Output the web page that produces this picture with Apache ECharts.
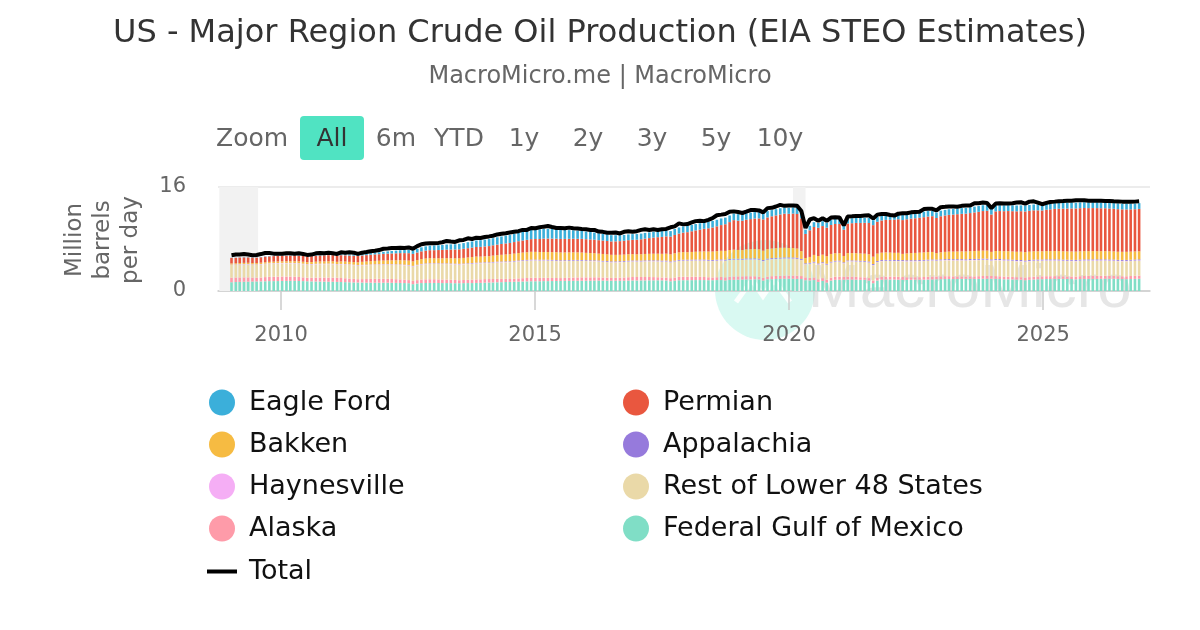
<!DOCTYPE html>
<html>
<head>
<meta charset="utf-8">
<script src="https://cdn.jsdelivr.net/npm/echarts@6/dist/echarts.min.js"></script>
<style>
html,body{margin:0;padding:0;background:#fff;}
#chart{width:1200px;height:630px;}
</style>
</head>
<body>
<div id="chart"></div>
<script>
// ---------------- DATA (million barrels per day, monthly Jan 2009 - Dec 2026) ----------------
const years = [2009,2010,2011,2012,2013,2014,2015,2016,2017,2018,2019,2020,2021,2022,2023,2024,2025,2026];
const xTickYears = [2010, 2015, 2020, 2025];
const yTicks = [0, 16];
const recessions = [['2008-10-05', '2009-07-12'], ['2020-02-01', '2020-05-01']];

const eagleFord = [
0.03,0.03,0.03,0.04,0.04,0.04,0.04,0.05,0.05,0.05,0.05,0.05,
0.06,0.06,0.07,0.07,0.08,0.09,0.10,0.11,0.12,0.13,0.14,0.15,
0.15,0.15,0.16,0.17,0.18,0.19,0.20,0.22,0.24,0.26,0.28,0.30,
0.32,0.35,0.38,0.41,0.44,0.47,0.50,0.54,0.58,0.62,0.66,0.70,
0.72,0.74,0.76,0.78,0.80,0.82,0.85,0.88,0.92,0.96,1.00,1.03,
1.05,1.08,1.10,1.13,1.16,1.19,1.22,1.26,1.30,1.34,1.38,1.42,
1.45,1.48,1.50,1.50,1.48,1.45,1.42,1.38,1.34,1.30,1.26,1.22,
1.18,1.14,1.10,1.06,1.02,0.99,0.96,0.94,0.92,0.90,0.89,0.88,
0.87,0.87,0.88,0.88,0.89,0.89,0.90,0.90,0.85,0.92,0.94,0.95,
0.96,0.97,0.98,0.99,1.00,1.00,1.01,1.01,1.02,1.02,1.02,1.02,
1.01,1.00,1.00,0.99,0.99,0.98,0.97,0.97,0.96,0.96,0.95,0.95,
0.95,0.95,0.94,0.85,0.65,0.70,0.74,0.74,0.75,0.75,0.76,0.76,
0.76,0.68,0.77,0.77,0.78,0.78,0.78,0.78,0.77,0.79,0.80,0.80,
0.81,0.81,0.82,0.82,0.83,0.83,0.84,0.84,0.85,0.85,0.86,0.85,
0.86,0.86,0.87,0.87,0.88,0.88,0.88,0.89,0.89,0.89,0.90,0.90,
0.86,0.89,0.90,0.90,0.90,0.90,0.90,0.90,0.90,0.90,0.90,0.90,
0.89,0.90,0.90,0.90,0.90,0.90,0.90,0.90,0.89,0.89,0.89,0.89,
0.89,0.89,0.89,0.88,0.88,0.88,0.88,0.88,0.88,0.88,0.88,0.88];

const permian = [
0.85,0.84,0.84,0.84,0.83,0.83,0.84,0.84,0.85,0.85,0.86,0.86,
0.87,0.87,0.88,0.88,0.89,0.89,0.90,0.91,0.92,0.93,0.94,0.95,
0.95,0.94,0.96,0.96,0.97,0.97,0.96,0.98,0.98,0.99,1.00,1.00,
1.02,1.04,1.06,1.08,1.10,1.12,1.14,1.15,1.17,1.19,1.21,1.23,
1.25,1.27,1.29,1.32,1.34,1.36,1.38,1.40,1.43,1.45,1.47,1.50,
1.52,1.55,1.58,1.62,1.66,1.70,1.74,1.78,1.82,1.86,1.90,1.95,
1.98,2.02,2.06,2.08,2.08,2.07,2.08,2.08,2.09,2.09,2.09,2.10,
2.10,2.09,2.08,2.07,2.06,2.05,2.06,2.08,2.10,2.13,2.16,2.20,
2.25,2.30,2.36,2.42,2.48,2.54,2.60,2.67,2.74,2.82,2.90,3.00,
3.08,3.18,3.28,3.38,3.48,3.58,3.70,3.82,3.95,4.10,4.30,4.55,
4.50,4.52,4.58,4.64,4.70,4.76,4.82,4.88,4.96,5.04,5.14,5.25,
5.25,5.30,5.32,5.05,3.70,4.10,4.30,4.35,4.40,4.38,4.45,4.50,
4.50,4.05,4.55,4.60,4.65,4.70,4.75,4.80,4.85,4.90,4.95,5.00,
5.05,5.10,5.15,5.20,5.25,5.30,5.33,5.37,5.42,5.46,5.50,5.40,
5.55,5.60,5.65,5.70,5.74,5.78,5.82,5.86,5.94,6.00,6.08,6.12,
5.75,6.10,6.14,6.16,6.18,6.20,6.22,6.24,6.26,6.28,6.30,6.30,
6.28,6.36,6.42,6.48,6.52,6.56,6.60,6.62,6.64,6.64,6.64,6.62,
6.62,6.62,6.60,6.60,6.58,6.56,6.55,6.53,6.52,6.50,6.50,6.52];

const bakken = [
0.17,0.17,0.18,0.18,0.19,0.19,0.20,0.20,0.21,0.21,0.22,0.23,
0.24,0.25,0.26,0.27,0.28,0.29,0.30,0.31,0.32,0.33,0.34,0.35,
0.36,0.35,0.38,0.39,0.38,0.40,0.43,0.46,0.49,0.51,0.53,0.55,
0.56,0.58,0.60,0.62,0.64,0.66,0.67,0.69,0.71,0.74,0.76,0.78,
0.76,0.77,0.78,0.80,0.81,0.82,0.85,0.87,0.90,0.92,0.95,0.91,
0.92,0.95,0.98,1.00,1.03,1.06,1.08,1.11,1.14,1.16,1.18,1.20,
1.19,1.17,1.18,1.18,1.19,1.21,1.20,1.19,1.18,1.17,1.16,1.15,
1.12,1.11,1.09,1.06,1.05,1.03,1.01,1.00,0.99,0.98,0.99,0.97,
0.95,0.98,0.99,1.00,1.02,1.03,1.04,1.06,1.08,1.12,1.15,1.17,
1.15,1.18,1.20,1.22,1.25,1.27,1.29,1.31,1.33,1.35,1.37,1.38,
1.35,1.33,1.38,1.40,1.42,1.43,1.44,1.45,1.47,1.49,1.50,1.48,
1.45,1.45,1.42,1.20,0.82,0.90,1.05,1.14,1.16,1.17,1.18,1.15,
1.13,0.98,1.12,1.12,1.13,1.12,1.11,1.12,1.13,1.13,1.14,1.15,
1.12,1.10,1.11,0.95,1.05,1.10,1.12,1.14,1.15,1.16,1.15,1.00,
1.08,1.12,1.15,1.16,1.18,1.19,1.20,1.21,1.22,1.23,1.24,1.25,
1.15,1.22,1.24,1.25,1.26,1.26,1.27,1.27,1.28,1.28,1.28,1.27,
1.26,1.27,1.27,1.28,1.28,1.28,1.28,1.28,1.28,1.27,1.27,1.27,
1.27,1.26,1.26,1.26,1.26,1.25,1.25,1.25,1.25,1.25,1.24,1.24];

const appalachia = [
0.02,0.02,0.02,0.02,0.02,0.02,0.02,0.02,0.02,0.02,0.02,0.02,
0.02,0.02,0.02,0.02,0.02,0.03,0.03,0.03,0.03,0.03,0.03,0.03,
0.03,0.03,0.03,0.03,0.03,0.03,0.04,0.04,0.04,0.04,0.04,0.04,
0.04,0.04,0.04,0.04,0.05,0.05,0.05,0.05,0.05,0.05,0.06,0.06,
0.06,0.06,0.06,0.06,0.07,0.07,0.07,0.07,0.07,0.08,0.08,0.08,
0.08,0.08,0.08,0.09,0.09,0.09,0.09,0.10,0.10,0.10,0.10,0.10,
0.10,0.10,0.10,0.11,0.11,0.11,0.11,0.11,0.11,0.11,0.11,0.11,
0.11,0.11,0.11,0.11,0.11,0.12,0.12,0.12,0.12,0.12,0.12,0.12,
0.12,0.12,0.12,0.12,0.12,0.13,0.13,0.13,0.13,0.13,0.13,0.13,
0.13,0.13,0.13,0.13,0.14,0.14,0.14,0.14,0.14,0.14,0.14,0.14,
0.14,0.14,0.14,0.15,0.15,0.15,0.15,0.15,0.15,0.15,0.15,0.15,
0.15,0.15,0.15,0.14,0.12,0.13,0.13,0.13,0.13,0.13,0.13,0.13,
0.13,0.12,0.13,0.13,0.13,0.13,0.13,0.14,0.14,0.14,0.14,0.14,
0.14,0.14,0.14,0.14,0.14,0.14,0.14,0.14,0.14,0.14,0.14,0.14,
0.14,0.14,0.14,0.15,0.15,0.15,0.15,0.15,0.15,0.15,0.15,0.15,
0.15,0.15,0.15,0.15,0.15,0.15,0.15,0.15,0.15,0.15,0.15,0.15,
0.15,0.15,0.15,0.15,0.15,0.15,0.15,0.15,0.15,0.15,0.15,0.15,
0.15,0.15,0.15,0.15,0.15,0.15,0.15,0.15,0.15,0.15,0.15,0.15];

const haynesville = [
0.05,0.05,0.06,0.06,0.06,0.06,0.06,0.06,0.06,0.06,0.06,0.06,
0.06,0.06,0.06,0.06,0.06,0.06,0.06,0.06,0.06,0.06,0.06,0.06,
0.06,0.06,0.06,0.06,0.05,0.05,0.05,0.05,0.05,0.05,0.05,0.05,
0.05,0.05,0.05,0.05,0.05,0.05,0.05,0.05,0.05,0.05,0.05,0.05,
0.05,0.05,0.05,0.05,0.05,0.05,0.05,0.05,0.05,0.05,0.05,0.05,
0.05,0.05,0.05,0.05,0.05,0.05,0.05,0.05,0.05,0.05,0.05,0.05,
0.05,0.05,0.05,0.05,0.05,0.05,0.04,0.04,0.04,0.04,0.04,0.04,
0.04,0.04,0.04,0.04,0.04,0.04,0.04,0.04,0.04,0.04,0.04,0.04,
0.04,0.04,0.04,0.04,0.04,0.04,0.04,0.04,0.04,0.04,0.04,0.04,
0.04,0.04,0.04,0.04,0.04,0.04,0.04,0.04,0.04,0.04,0.04,0.04,
0.04,0.04,0.04,0.04,0.04,0.04,0.04,0.04,0.04,0.04,0.04,0.04,
0.04,0.04,0.04,0.04,0.04,0.04,0.04,0.04,0.04,0.04,0.04,0.04,
0.04,0.04,0.04,0.04,0.04,0.04,0.04,0.04,0.04,0.04,0.04,0.04,
0.04,0.04,0.04,0.05,0.05,0.05,0.05,0.05,0.05,0.05,0.05,0.05,
0.05,0.05,0.05,0.05,0.05,0.05,0.05,0.05,0.06,0.06,0.06,0.06,
0.06,0.06,0.06,0.06,0.06,0.06,0.06,0.06,0.06,0.06,0.06,0.06,
0.06,0.06,0.06,0.06,0.06,0.06,0.06,0.06,0.06,0.06,0.06,0.06,
0.06,0.06,0.06,0.06,0.06,0.06,0.06,0.06,0.06,0.06,0.06,0.06];

const restLower48 = [
1.95,1.95,1.96,1.97,1.97,1.96,1.97,1.99,2.00,2.01,2.01,2.02,
2.02,2.02,2.03,2.03,2.04,2.02,2.00,2.02,2.04,2.05,2.05,2.06,
2.06,2.02,2.08,2.09,2.10,2.10,2.08,2.11,2.12,2.13,2.14,2.15,
2.16,2.17,2.18,2.19,2.20,2.21,2.23,2.22,2.27,2.30,2.33,2.35,
2.35,2.36,2.37,2.38,2.38,2.38,2.40,2.41,2.42,2.43,2.44,2.45,
2.46,2.44,2.49,2.52,2.54,2.56,2.58,2.60,2.61,2.63,2.64,2.65,
2.65,2.64,2.64,2.63,2.62,2.60,2.59,2.58,2.57,2.56,2.54,2.52,
2.50,2.48,2.46,2.44,2.42,2.40,2.39,2.38,2.37,2.38,2.39,2.39,
2.38,2.36,2.40,2.41,2.42,2.42,2.43,2.43,2.40,2.43,2.45,2.45,
2.46,2.47,2.48,2.49,2.50,2.50,2.51,2.52,2.53,2.53,2.54,2.55,
2.54,2.52,2.55,2.56,2.57,2.57,2.56,2.58,2.59,2.59,2.60,2.60,
2.60,2.60,2.58,2.45,2.00,2.15,2.25,2.26,2.28,2.27,2.29,2.30,
2.30,2.05,2.32,2.34,2.35,2.36,2.36,2.37,2.35,2.38,2.39,2.40,
2.40,2.38,2.41,2.42,2.42,2.43,2.43,2.44,2.45,2.45,2.45,2.40,
2.42,2.43,2.44,2.44,2.45,2.45,2.45,2.46,2.46,2.46,2.46,2.45,
2.35,2.43,2.44,2.44,2.44,2.44,2.43,2.43,2.42,2.42,2.41,2.40,
2.38,2.38,2.38,2.37,2.37,2.36,2.36,2.35,2.35,2.34,2.34,2.33,
2.33,2.33,2.32,2.32,2.31,2.31,2.30,2.30,2.30,2.29,2.29,2.29];

const alaska = [
0.70,0.70,0.69,0.68,0.66,0.62,0.58,0.60,0.64,0.66,0.68,0.68,
0.68,0.67,0.66,0.64,0.62,0.58,0.54,0.56,0.60,0.62,0.63,0.64,
0.64,0.63,0.62,0.60,0.58,0.55,0.52,0.53,0.56,0.58,0.60,0.60,
0.60,0.60,0.59,0.57,0.55,0.52,0.48,0.50,0.52,0.55,0.57,0.57,
0.57,0.56,0.55,0.54,0.52,0.50,0.46,0.48,0.50,0.52,0.54,0.55,
0.55,0.54,0.53,0.52,0.50,0.48,0.45,0.47,0.50,0.51,0.52,0.53,
0.53,0.52,0.51,0.50,0.48,0.46,0.44,0.45,0.48,0.50,0.51,0.52,
0.52,0.52,0.51,0.50,0.48,0.46,0.43,0.44,0.48,0.50,0.52,0.53,
0.53,0.53,0.52,0.51,0.50,0.47,0.44,0.46,0.48,0.50,0.52,0.53,
0.53,0.52,0.51,0.50,0.48,0.46,0.43,0.44,0.47,0.49,0.51,0.52,
0.51,0.50,0.50,0.49,0.47,0.44,0.41,0.42,0.46,0.48,0.49,0.50,
0.50,0.49,0.48,0.46,0.44,0.40,0.40,0.41,0.43,0.45,0.46,0.47,
0.47,0.46,0.46,0.44,0.43,0.40,0.38,0.39,0.42,0.44,0.45,0.45,
0.45,0.45,0.44,0.43,0.42,0.40,0.38,0.39,0.41,0.43,0.44,0.44,
0.44,0.44,0.43,0.42,0.41,0.39,0.37,0.38,0.40,0.42,0.43,0.43,
0.43,0.43,0.43,0.42,0.41,0.39,0.37,0.39,0.41,0.42,0.43,0.43,
0.44,0.44,0.44,0.43,0.42,0.40,0.38,0.40,0.42,0.44,0.45,0.46,
0.47,0.47,0.47,0.46,0.45,0.44,0.42,0.43,0.45,0.47,0.48,0.49];

const gulfOfMexico = [
1.35,1.38,1.40,1.42,1.44,1.45,1.47,1.48,1.50,1.52,1.52,1.53,
1.55,1.55,1.56,1.56,1.54,1.52,1.50,1.48,1.46,1.45,1.44,1.43,
1.42,1.40,1.38,1.36,1.34,1.32,1.30,1.30,1.28,1.28,1.27,1.27,
1.28,1.27,1.26,1.25,1.24,1.22,1.20,1.05,1.15,1.22,1.23,1.24,
1.24,1.23,1.22,1.22,1.21,1.20,1.20,1.21,1.22,1.22,1.24,1.25,
1.28,1.30,1.32,1.34,1.36,1.38,1.40,1.42,1.44,1.46,1.48,1.50,
1.50,1.50,1.52,1.52,1.53,1.54,1.55,1.56,1.56,1.57,1.58,1.58,
1.58,1.58,1.60,1.60,1.60,1.59,1.58,1.58,1.57,1.58,1.60,1.62,
1.62,1.63,1.63,1.64,1.64,1.65,1.64,1.62,1.50,1.58,1.65,1.66,
1.66,1.67,1.68,1.68,1.68,1.66,1.66,1.68,1.68,1.62,1.70,1.72,
1.74,1.76,1.78,1.78,1.80,1.78,1.60,1.80,1.82,1.84,1.86,1.88,
1.88,1.88,1.86,1.84,1.66,1.62,1.68,1.40,1.55,1.30,1.60,1.72,
1.74,1.74,1.76,1.76,1.74,1.72,1.72,1.60,1.20,1.62,1.74,1.76,
1.76,1.76,1.74,1.72,1.70,1.72,1.74,1.74,1.74,1.76,1.78,1.80,
1.82,1.84,1.85,1.84,1.84,1.86,1.86,1.88,1.86,1.86,1.88,1.88,
1.88,1.86,1.84,1.80,1.80,1.78,1.76,1.74,1.66,1.72,1.78,1.80,
1.82,1.84,1.84,1.86,1.86,1.86,1.86,1.84,1.80,1.84,1.86,1.86,
1.86,1.86,1.87,1.88,1.88,1.88,1.86,1.84,1.82,1.84,1.86,1.88];

const total = [
5.50,5.62,5.62,5.68,5.62,5.50,5.55,5.68,5.85,5.83,5.75,5.75,
5.72,5.80,5.80,5.73,5.80,5.70,5.55,5.60,5.80,5.85,5.80,5.90,
5.80,5.70,5.95,5.90,5.95,5.90,5.70,5.90,6.00,6.10,6.20,6.30,
6.50,6.55,6.60,6.60,6.65,6.60,6.70,6.50,6.90,7.20,7.30,7.35,
7.35,7.40,7.50,7.70,7.60,7.55,7.80,7.85,8.10,8.00,8.20,8.15,
8.30,8.40,8.50,8.70,8.80,8.90,9.00,9.10,9.20,9.40,9.40,9.70,
9.65,9.80,9.90,10.00,9.85,9.70,9.70,9.65,9.75,9.65,9.60,9.55,
9.50,9.40,9.40,9.15,9.10,8.95,8.95,9.00,8.85,9.10,9.20,9.10,
9.20,9.40,9.50,9.40,9.50,9.40,9.50,9.55,9.80,9.95,10.40,10.25,
10.30,10.55,10.75,10.80,10.75,10.95,11.20,11.65,11.75,11.85,12.20,12.25,
12.15,12.00,12.20,12.45,12.45,12.40,12.10,12.75,12.80,13.00,13.25,13.10,
13.15,13.15,13.10,12.30,9.70,11.00,11.20,10.80,11.20,10.80,11.30,11.35,
11.30,10.10,11.45,11.50,11.55,11.55,11.60,11.65,11.15,11.75,11.85,11.85,
11.70,11.60,11.90,11.95,11.95,12.10,12.15,12.20,12.60,12.65,12.65,12.40,
12.90,12.95,13.00,13.00,12.95,13.10,13.15,13.15,13.50,13.50,13.60,13.55,
12.75,13.45,13.50,13.45,13.45,13.50,13.60,13.65,13.45,13.75,13.80,13.60,
13.35,13.55,13.70,13.75,13.80,13.85,13.90,13.90,13.95,13.95,13.95,13.90,
13.90,13.90,13.88,13.85,13.85,13.80,13.78,13.75,13.75,13.72,13.75,13.80];

// ---------------- CHART ----------------
const FONT = 'DejaVu Sans';
const months = [];
years.forEach(y => { for (let m = 0; m < 12; m++) months.push(Date.UTC(y, m, 1)); });
const pair = arr => months.map((t, i) => [t, arr[i]]);
const ts = s => new Date(s + 'T00:00:00Z').getTime();
const X_MIN = ts('2008-10-05'), X_MAX = ts('2027-02-08');

const stackDefs = [
  ['Federal Gulf of Mexico', gulfOfMexico, '#80DEC6'],
  ['Alaska', alaska, '#FE9BA9'],
  ['Rest of Lower 48 States', restLower48, '#EAD9A8'],
  ['Haynesville', haynesville, '#F5AEF5'],
  ['Appalachia', appalachia, '#967ADC'],
  ['Bakken', bakken, '#F6BB42'],
  ['Permian', permian, '#E9573F'],
  ['Eagle Ford', eagleFord, '#3BAFDA']
];

const series = stackDefs.map((d, k) => {
  const s = {
    name: d[0], type: 'bar', stack: 'prod', barWidth: 2.6, xAxisIndex: 0,
    data: pair(d[1]), itemStyle: { color: d[2] },
    emphasis: { disabled: true }, animation: false
  };
  if (k === 0) {
    s.markArea = {
      silent: true, z: 1,
      itemStyle: { color: '#f2f2f2' },
      data: recessions.map(r => [{ xAxis: ts(r[0]) }, { xAxis: ts(r[1]) }])
    };
  }
  return s;
});
series.push({
  name: 'Total', type: 'line', xAxisIndex: 0, data: pair(total), symbol: 'none', showSymbol: false,
  lineStyle: { color: '#000', width: 4 }, itemStyle: { color: '#000' }, z: 5,
  emphasis: { disabled: true }, animation: false
});

const circleLegend = (left, names) => ({
  orient: 'vertical', left: left, top: 384, itemWidth: 44, itemHeight: 26, itemGap: 15,
  icon: 'circle', symbolKeepAspect: true, selectedMode: false, data: names,
  textStyle: { fontFamily: FONT, fontSize: 27, color: '#111', lineHeight: 26 }
});

const tickVals = xTickYears.map(y => Date.UTC(y, 0, 1));

const chart = echarts.init(document.getElementById('chart'), null, { renderer: 'canvas' });
chart.setOption({
  backgroundColor: '#fff',
  animation: false,
  textStyle: { fontFamily: FONT },
  grid: { left: 218, right: 50, top: 187, bottom: 339 },
  xAxis: [
    { type: 'time', min: X_MIN, max: X_MAX, show: false },
    {
      type: 'value', position: 'bottom', min: X_MIN, max: X_MAX,
      axisLine: { show: true, lineStyle: { color: '#ccc', width: 1.5 } },
      axisTick: { show: true, length: 19, lineStyle: { color: '#ccc', width: 1.5 }, customValues: tickVals },
      axisLabel: { color: '#666', fontSize: 21, margin: 34, fontFamily: FONT, customValues: tickVals,
        formatter: v => String(new Date(v).getUTCFullYear()) },
      splitLine: { show: false }
    }
  ],
  yAxis: {
    type: 'value', min: yTicks[0], max: yTicks[1], interval: yTicks[1] - yTicks[0],
    axisLine: { show: false }, axisTick: { show: false },
    axisLabel: { color: '#666', fontSize: 21, margin: 32, fontFamily: FONT, padding: [6, 0, 0, 0] },
    splitLine: { lineStyle: { color: '#e6e6e6', width: 1.5 } }
  },
  legend: [
    circleLegend(204, ['Eagle Ford', 'Bakken', 'Haynesville', 'Alaska']),
    circleLegend(618, ['Permian', 'Appalachia', 'Rest of Lower 48 States', 'Federal Gulf of Mexico']),
    { orient: 'vertical', left: 200, top: 553, itemWidth: 30, itemHeight: 26, selectedMode: false,
      data: ['Total'],
      itemStyle: { color: 'rgba(0,0,0,0)', borderWidth: 0, opacity: 0 },
      lineStyle: { color: '#000', width: 4 },
      textStyle: { fontFamily: FONT, fontSize: 27, color: '#111', lineHeight: 26, padding: [0, 0, 0, 7] } }
  ],
  graphic: [
    { type: 'circle', z: -10, shape: { cx: 765, cy: 290, r: 50 }, style: { fill: 'rgba(80,227,194,0.22)' }, silent: true },
    { type: 'polyline', z: -9, shape: { points: [[736,302],[752,280],[763,296],[774,280],[790,302]] },
      style: { stroke: 'rgba(255,255,255,0.9)', lineWidth: 5, fill: null }, silent: true },
    { type: 'text', z: -9, x: 808, y: 290, silent: true,
      style: { text: 'MacroMicro', fontFamily: 'Liberation Sans', fontSize: 62, fill: 'rgba(200,200,200,0.45)', textVerticalAlign: 'middle' } },
    { type: 'text', x: 600, y: 34, style: { text: 'US - Major Region Crude Oil Production (EIA STEO Estimates)', fontFamily: FONT, fontSize: 32, fill: '#333', textAlign: 'center', textVerticalAlign: 'middle' } },
    { type: 'text', x: 600, y: 77, style: { text: 'MacroMicro.me | MacroMicro', fontFamily: FONT, fontSize: 24, fill: '#666', textAlign: 'center', textVerticalAlign: 'middle' } },
    { type: 'text', x: 216, y: 139, style: { text: 'Zoom', fontFamily: FONT, fontSize: 25, fill: '#666', textVerticalAlign: 'middle' } },
    { type: 'rect', shape: { x: 300, y: 116, width: 64, height: 44, r: 4 }, style: { fill: '#50E3C2' } },
    { type: 'text', x: 332, y: 139, style: { text: 'All', fontFamily: FONT, fontSize: 25, fill: '#333', textAlign: 'center', textVerticalAlign: 'middle' } },
    { type: 'text', x: 396, y: 139, style: { text: '6m', fontFamily: FONT, fontSize: 25, fill: '#666', textAlign: 'center', textVerticalAlign: 'middle' } },
    { type: 'text', x: 459, y: 139, style: { text: 'YTD', fontFamily: FONT, fontSize: 25, fill: '#666', textAlign: 'center', textVerticalAlign: 'middle' } },
    { type: 'text', x: 524, y: 139, style: { text: '1y', fontFamily: FONT, fontSize: 25, fill: '#666', textAlign: 'center', textVerticalAlign: 'middle' } },
    { type: 'text', x: 588, y: 139, style: { text: '2y', fontFamily: FONT, fontSize: 25, fill: '#666', textAlign: 'center', textVerticalAlign: 'middle' } },
    { type: 'text', x: 652, y: 139, style: { text: '3y', fontFamily: FONT, fontSize: 25, fill: '#666', textAlign: 'center', textVerticalAlign: 'middle' } },
    { type: 'text', x: 716, y: 139, style: { text: '5y', fontFamily: FONT, fontSize: 25, fill: '#666', textAlign: 'center', textVerticalAlign: 'middle' } },
    { type: 'text', x: 780, y: 139, style: { text: '10y', fontFamily: FONT, fontSize: 25, fill: '#666', textAlign: 'center', textVerticalAlign: 'middle' } },
    { type: 'text', x: 103, y: 240, rotation: Math.PI / 2,
      style: { text: 'Million\nbarrels\nper day', fontFamily: FONT, fontSize: 23, lineHeight: 28, fill: '#666', textAlign: 'center', textVerticalAlign: 'middle' } }
  ],
  series: series
});
</script>
</body>
</html>
